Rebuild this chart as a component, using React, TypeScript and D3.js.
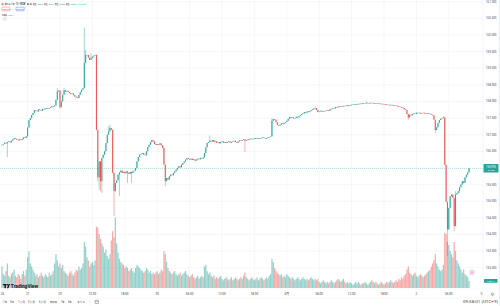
import React from "react";
import * as d3 from "d3";

// 15-minute USD/JPY closes
const closes = [
  156.70,156.72,156.76,156.74,156.78,156.80,156.77,156.82,156.86,156.90,
  156.88,156.85,156.83,156.86,156.84,156.88,156.92,156.90,156.95,
  157.22,157.44,157.50,157.59,157.65,157.74,157.72,157.70,157.76,157.74,157.72,
  157.78,157.76,157.79,157.80,157.78,157.80,157.82,157.86,157.85,157.88,158.05,158.30,158.33,
  157.83,158.00,158.20,158.34,158.30,158.32,158.28,
  158.25,158.22,158.24,158.19,158.15,158.12,158.10,
  158.20,158.28,158.35,158.40,
  159.16,159.40,
  159.40,159.32,159.25,159.30,159.35,159.38,159.40,
  157.14,155.72,156.20,155.60,156.30,156.40,156.50,156.75,157.00,157.10,157.20,157.15,
  155.85,155.30,155.55,155.63,155.80,155.87,155.92,155.85,155.88,155.84,155.90,155.86,155.82,155.88,155.85,155.90,155.92,156.00,
  156.20,156.33,156.40,156.42,156.45,156.40,156.38,156.50,156.63,156.70,156.78,156.84,156.80,156.72,156.69,156.72,156.70,156.74,156.68,156.60,
  156.10,155.60,155.70,155.65,155.75,155.80,155.78,155.85,155.90,155.95,156.00,156.05,156.02,156.10,156.15,156.20,156.25,156.30,156.27,156.25,
  156.28,156.24,156.26,156.22,156.25,156.28,156.26,156.30,156.28,156.32,156.45,156.62,156.75,156.78,156.82,156.80,156.84,156.78,156.80,156.76,
  156.78,156.74,156.78,156.80,156.76,156.78,156.75,156.78,156.80,156.76,156.78,156.80,156.82,156.78,156.76,156.80,156.83,156.82,156.84,156.86,
  156.82,156.85,156.84,156.87,156.88,156.86,156.88,156.90,156.87,156.89,156.90,156.88,156.90,156.92,156.90,156.88,156.90,156.92,156.93,156.95,
  157.42,157.47,157.45,157.38,157.29,157.27,157.30,157.34,157.32,157.36,157.38,157.42,157.48,157.53,157.50,157.52,157.49,157.50,157.54,157.52,
  157.56,157.59,157.62,157.64,157.68,157.66,157.70,157.68,157.71,157.74,157.76,157.79,157.80,157.74,157.68,157.70,157.72,157.69,157.70,157.71,
  157.73,157.74,157.72,157.77,157.78,157.80,157.79,157.83,157.82,157.85,157.86,157.84,157.86,157.87,157.86,157.88,157.86,157.89,157.89,157.90,
  157.91,157.92,157.90,157.92,157.93,157.92,157.94,157.93,157.95,157.95,157.96,157.94,157.95,157.96,157.95,157.94,157.95,157.94,157.93,157.94,
  157.92,157.93,157.92,157.91,157.92,157.90,157.90,157.89,157.90,157.88,157.89,157.88,157.87,157.86,157.84,157.83,157.82,157.80,157.76,157.74,
  157.62,157.52,157.60,157.58,157.62,157.64,157.62,157.66,157.65,157.66,157.64,157.65,157.66,157.64,157.65,157.63,157.64,157.62,157.60,157.58,
  157.45,157.14,157.22,157.35,157.44,157.48,157.50,157.52,
  156.10,154.98,154.15,154.80,155.15,155.20,155.10,154.25,155.20,155.24,155.30,155.42,155.50,155.60,155.55,155.72,155.80,155.87,155.99,
];
const firstOpen = 156.68;

// notable wicks [candle index, price]
const wickHighs: [number, number][] = [
  [41, 158.40], [46, 158.40], [61, 160.22], [62, 159.55], [66, 159.45], [79, 157.25],
  [80, 157.30], [154, 156.98], [200, 157.50], [232, 157.84], [270, 157.99], [327, 157.56], [336, 155.30],
];
const wickLows: [number, number][] = [
  [4, 156.33], [43, 157.78], [71, 155.60], [72, 155.35], [73, 155.30], [74, 155.25], [83, 154.55],
  [87, 155.15], [93, 155.55], [96, 155.55], [121, 155.45], [180, 156.48], [301, 157.45],
  [321, 157.05], [330, 153.35], [335, 154.10],
];

// volume in K
const volumes = [
  14,9,8,11,16,8,7,9,10,12,8,7,9,8,6,9,11,8,12,
  20,24,16,14,12,10,8,9,7,8,10,8,7,9,8,7,10,8,9,11,16,22,18,14,
  16,13,15,11,10,9,8,10,11,9,8,10,12,11,14,12,13,16,
  30,27,20,18,14,16,17,15,18,
  40,39,35,32,29,27,23,25,21,19,22,31,37,33,46,
  29,23,19,17,16,15,13,14,13,11,12,13,11,10,13,15,14,13,12,11,10,11,13,12,10,11,9,10,9,10,11,9,10,12,11,
  24,22,17,13,11,10,9,10,11,9,8,9,10,8,9,10,11,9,8,7,8,9,7,6,7,8,6,7,8,7,
  14,15,11,9,10,8,7,8,6,7,6,7,8,6,5,6,7,6,5,6,7,5,6,7,6,5,6,7,6,8,10,7,6,5,6,7,6,5,6,7,5,6,7,6,5,6,7,6,8,9,
  19,17,13,11,10,9,8,9,7,8,7,9,8,7,6,7,6,5,6,7,6,5,6,7,6,5,6,5,6,7,6,5,6,
  5,6,4,3,4,5,4,3,4,3,4,5,4,3,4,5,6,5,4,5,6,4,3,4,3,4,3,2,3,4,3,4,3,2,3,3,4,3,2,3,
  4,5,4,3,4,3,2,3,4,3,2,3,4,3,4,5,4,3,4,5,4,6,5,7,6,8,9,
  12,14,10,9,8,9,10,8,7,8,9,8,7,8,9,10,11,12,14,16,18,22,16,14,12,11,12,15,
  36,35,30,28,24,22,20,30,24,18,16,14,12,10,12,9,8,7,4.557,
];

const priceTicks = [161, 160.5, 160, 159.5, 159, 158.5, 158, 157.5, 157, 156.5, 156, 155.5, 155, 154.5, 154, 153.5, 153];

const timeTicks: { i: number; label: string }[] = [
  { i: 0, label: "26" }, { i: 19, label: "27" }, { i: 43, label: "29" }, { i: 67, label: "12:00" },
  { i: 91, label: "18:00" }, { i: 115, label: "30" }, { i: 139, label: "06:00" }, { i: 163, label: "12:00" },
  { i: 187, label: "18:00" }, { i: 211, label: "5月" }, { i: 235, label: "06:00" }, { i: 259, label: "12:00" },
  { i: 283, label: "18:00" }, { i: 307, label: "2" }, { i: 331, label: "06:00" },
];

const rangeButtons = ["1日", "5日", "1ヶ月", "3ヶ月", "6ヶ月", "年初来", "1年", "5年", "すべて"];
const rangeX = [3, 10, 18, 28, 39, 50, 61, 68, 77];
const rangeW = [4, 4, 7, 7, 7, 7, 3.6, 3.6, 8];

const UP = "#26a69a";
const DOWN = "#ef5350";
const FONT = "Roboto, 'Noto Sans CJK JP', sans-serif";

export default function App() {
  const n = closes.length;
  const x = d3.scaleLinear().domain([0, n - 1]).range([1.95, 1.95 + (n - 1) * 1.35]);
  const y = d3.scaleLinear().domain([153, 161]).range([267.7, 1.7]);
  const yv = d3.scaleLinear().domain([0, 46]).range([288, 217.4]);

  const hiMap = new Map(wickHighs);
  const loMap = new Map(wickLows);
  const candles = closes.map((c, i) => {
    const o = i === 0 ? firstOpen : closes[i - 1];
    const h = Math.max(o, c, hiMap.get(i) ?? -Infinity);
    const l = Math.min(o, c, loMap.get(i) ?? Infinity);
    return { i, o, c, h, l, up: c >= o, v: volumes[i] ?? 0 };
  });
  const last = candles[n - 1];
  const axisX = 483;
  const chartBottom = 289;

  return (
    <svg width={500} height={306} style={{ position: "absolute", left: 0, top: 0, background: "#fff" }} fontFamily={FONT}>
      <rect width={500} height={306} fill="#fff" />
      {/* grid */}
      {priceTicks.map((p) => (
        <line key={"hg" + p} x1={0} x2={axisX} y1={y(p)} y2={y(p)} stroke="#f0f2f6" strokeWidth={0.6} />
      ))}
      {timeTicks.slice(1).map((t) => (
        <line key={"vg" + t.i} x1={x(t.i)} x2={x(t.i)} y1={0} y2={chartBottom} stroke="#f0f2f6" strokeWidth={0.6} />
      ))}
      {/* volume */}
      {candles.map((d) => (
        <rect key={"v" + d.i} x={x(d.i) - 0.6} width={1.2} y={yv(d.v)} height={yv(0) - yv(d.v)}
          fill={d.up ? UP : DOWN} opacity={0.5} />
      ))}
      {/* price line */}
      <line x1={0} x2={axisX} y1={y(last.c)} y2={y(last.c)} stroke={UP} strokeWidth={0.5} strokeDasharray="1 1" opacity={0.7} />
      {/* candles */}
      {candles.map((d) => {
        const col = d.up ? UP : DOWN;
        const top = y(Math.max(d.o, d.c));
        const bot = y(Math.min(d.o, d.c));
        return (
          <g key={"c" + d.i}>
            <line x1={x(d.i)} x2={x(d.i)} y1={y(d.h)} y2={y(d.l)} stroke={col} strokeWidth={0.45} />
            <rect x={x(d.i) - 0.5} width={1} y={top} height={Math.max(0.6, bot - top)} fill={col} />
          </g>
        );
      })}
      {/* axis separators */}
      <line x1={axisX} x2={axisX} y1={0} y2={298} stroke="#e6e8ee" strokeWidth={0.5} />
      <line x1={0} x2={500} y1={chartBottom} y2={chartBottom} stroke="#eceef2" strokeWidth={0.4} />
      <line x1={0} x2={500} y1={298} y2={298} stroke="#e6e8ee" strokeWidth={0.4} />
      <line x1={499.5} x2={499.5} y1={0} y2={306} stroke="#e0e3eb" strokeWidth={0.6} />
      {/* price axis labels */}
      {priceTicks.map((p) => (
        <text key={"pl" + p} x={486} y={y(p) + 1} fontSize={2.9} fill="#4a4d57" textLength={10.5} lengthAdjust="spacingAndGlyphs">
          {p.toFixed(3)}
        </text>
      ))}
      {/* current price label */}
      <rect x={483.5} y={y(last.c) - 4.2} width={15} height={8.4} fill={UP} rx={0.6} />
      <text x={491} y={y(last.c) - 0.6} fontSize={2.6} fill="#fff" textAnchor="middle">{last.c.toFixed(3)}</text>
      <text x={491} y={y(last.c) + 3} fontSize={2.4} fill="#fff" textAnchor="middle">01:58</text>
      {/* volume label */}
      <rect x={484} y={yv(last.v) - 2} width={13.5} height={3.8} fill={UP} rx={0.5} />
      <text x={490.7} y={yv(last.v) + 0.9} fontSize={2.3} fill="#fff" textAnchor="middle">4.557 K</text>
      {/* event marker */}
      <circle cx={472} cy={272.5} r={2} fill="#fff" stroke="#d67ad6" strokeWidth={0.6} />
      <circle cx={472} cy={272.5} r={0.7} fill="#d67ad6" />
      {/* time labels */}
      {timeTicks.map((t) => (
        <text key={"tl" + t.i} x={Math.max(x(t.i), 2.5)} y={295.2} fontSize={3} fill="#3c3f4a" textAnchor="middle">{t.label}</text>
      ))}
      <text x={481.5} y={295.2} fontSize={2.6} fill="#6a6d78" textAnchor="middle">%</text>
      <circle cx={492.5} cy={294.2} r={1.3} fill="none" stroke="#6a6d78" strokeWidth={0.45} />
      <circle cx={492.5} cy={294.2} r={0.45} fill="#6a6d78" />
      {/* bottom toolbar */}
      {rangeButtons.map((b, k) => (
        <text key={"rb" + k} x={rangeX[k]} y={303.3} fontSize={2.7} fill="#3c3f4a" textLength={rangeW[k]} lengthAdjust="spacingAndGlyphs">{b}</text>
      ))}
      <line x1={90} x2={90} y1={300} y2={304.5} stroke="#d1d4dc" strokeWidth={0.4} />
      <rect x={95} y={300.3} width={3.4} height={3.2} fill="none" stroke="#4a4d57" strokeWidth={0.4} rx={0.4} />
      <line x1={95} x2={98.4} y1={301.3} y2={301.3} stroke="#4a4d57" strokeWidth={0.35} />
      <text x={498} y={303.3} fontSize={2.7} fill="#3c3f4a" textAnchor="end" textLength={35} lengthAdjust="spacingAndGlyphs">09:58:01 (UTC+9)</text>
      {/* TradingView logo */}
      <g fill="#131722">
        <rect x={2.8} y={284} width={3.6} height={1.3} />
        <rect x={4.5} y={284} width={1.4} height={4.2} />
        <circle cx={7.3} cy={284.8} r={0.75} />
        <polygon points="8.6,284 10,284 8.4,288.2 7,288.2" />
        <text x={10.8} y={288.2} fontSize={4.6} fontWeight={700} textLength={27.2} lengthAdjust="spacingAndGlyphs">TradingView</text>
      </g>
      {/* header */}
      <circle cx={2.6} cy={4.1} r={1.6} fill="#f2c4c4" />
      <circle cx={2.6} cy={4.1} r={0.6} fill="#e05a5a" />
      <text x={4.8} y={5.2} fontSize={2.7} fill="#131722" fontWeight={500} textLength={20.5} lengthAdjust="spacingAndGlyphs">米ドル / 円 · 15 · FXCM</text>
      <rect x={27} y={3.1} width={1.7} height={1.9} fill={UP} rx={0.3} />
      <circle cx={30.7} cy={4.1} r={1.2} fill="#f77c80" />
      {[
        { t: "始値", v: last.o.toFixed(3), x: 33 },
        { t: "高値", v: "156.012", x: 44 },
        { t: "安値", v: "155.855", x: 55 },
        { t: "終値", v: last.c.toFixed(3), x: 66 },
      ].map((e) => (
        <g key={e.t}>
          <text x={e.x} y={5.1} fontSize={2.4} fill="#131722" textLength={3.4} lengthAdjust="spacingAndGlyphs">{e.t}</text>
          <text x={e.x + 3.8} y={5.1} fontSize={2.4} fill="#089981" textLength={6.2} lengthAdjust="spacingAndGlyphs">{e.v}</text>
        </g>
      ))}
      <text x={77} y={5.1} fontSize={2.4} fill="#089981" textLength={9} lengthAdjust="spacingAndGlyphs">+0.120 (+0.08%)</text>
      <rect x={1.8} y={7.2} width={8.3} height={3.6} fill="#fff" stroke="#f7525f" strokeWidth={0.4} rx={0.6} />
      <text x={5.95} y={9.8} fontSize={2.2} fill="#f23645" textAnchor="middle">155.990</text>
      <text x={13} y={9.8} fontSize={2.2} fill="#6a6d78" textAnchor="middle">1.4</text>
      <rect x={16} y={7.2} width={8.2} height={3.6} fill="#fff" stroke="#2962ff" strokeWidth={0.4} rx={0.6} />
      <text x={20.1} y={9.8} fontSize={2.2} fill="#2962ff" textAnchor="middle">156.004</text>
      <text x={2} y={15.6} fontSize={2.4} fill="#131722" textLength={5} lengthAdjust="spacingAndGlyphs">出来高</text>
      <text x={7.8} y={15.6} fontSize={2.4} fill="#089981" textLength={6} lengthAdjust="spacingAndGlyphs">4.557 K</text>
      <rect x={2.8} y={17.6} width={3.6} height={2.8} fill="#fff" stroke="#d1d4dc" strokeWidth={0.35} rx={0.4} />
      <path d="M3.9,19.4 L4.6,18.7 L5.3,19.4" fill="none" stroke="#131722" strokeWidth={0.35} />
    </svg>
  );
}
